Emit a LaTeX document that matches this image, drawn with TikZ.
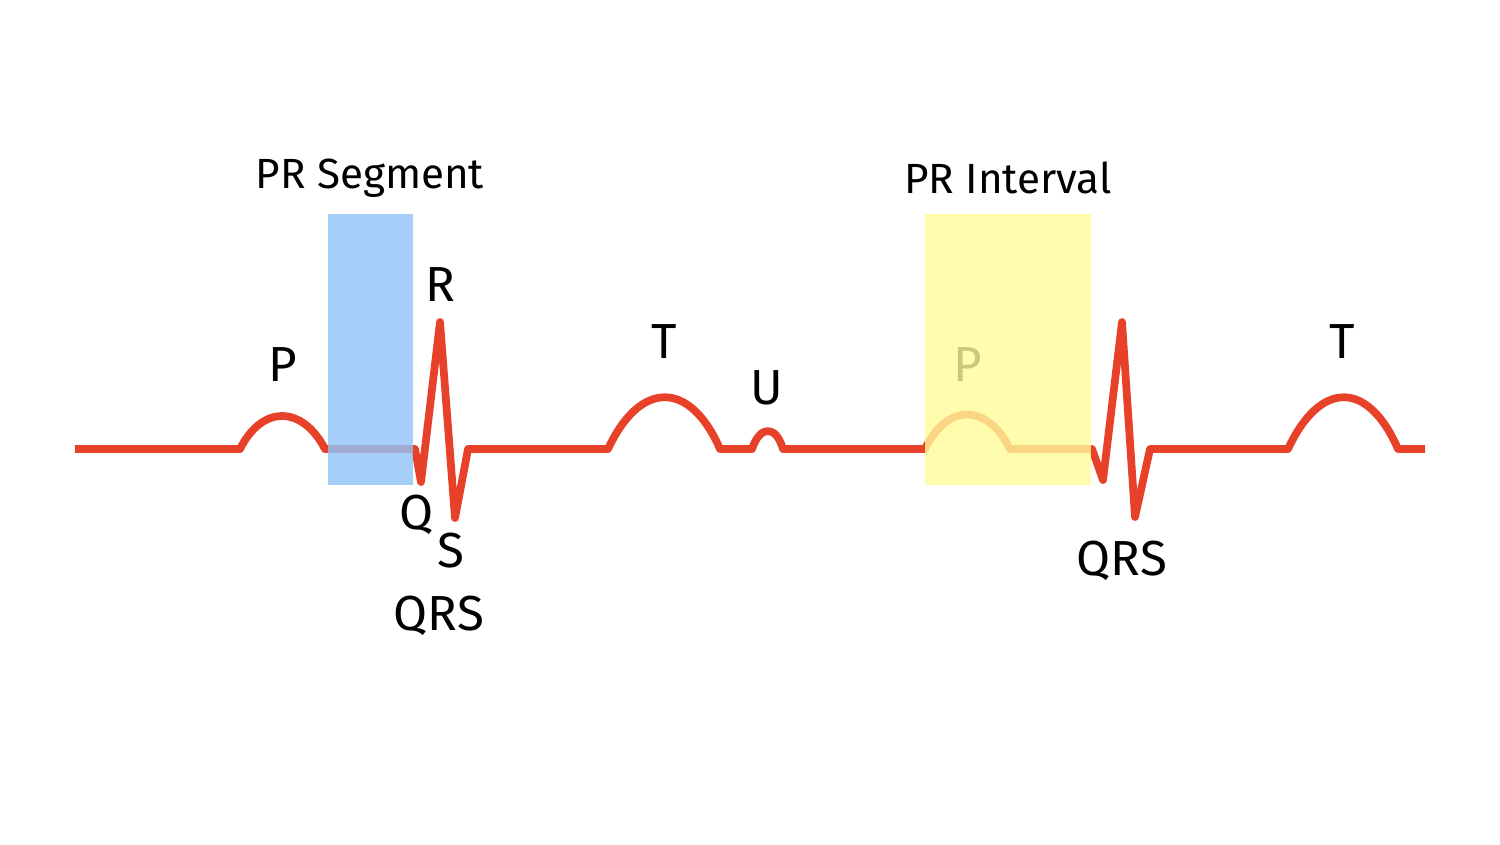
\documentclass[tikz,border=0pt]{standalone}
\usepackage{fontspec}
\setmainfont{Fira Sans}
\usetikzlibrary{positioning}
\definecolor{ecgred}{HTML}{E8412A}
\definecolor{segblue}{HTML}{8EC3F7}
\definecolor{intyellow}{HTML}{FFFB9A}
\begin{document}
\begin{tikzpicture}[x=0.01cm, y=-0.01cm, font=\fontsize{14}{16}\selectfont]
\tikzset{
    wave/.style={draw=ecgred, line width=2.2pt, line join=round},
    band/.style={opacity=0.8},
    lbl/.style={inner sep=0pt},
    title/.style={inner sep=0pt, font=\fontsize{12}{14}\selectfont}
}
\useasboundingbox (0,0) rectangle (1500,844);

% labels
\node[lbl] (p1) at (283,365) {P};
\node[lbl] (r1) at (440,285) {R};
\node[lbl] (q1) at (417,515) {Q};
\node[lbl] (s1) at (451,551) {S};
\node[lbl] (qrs1) at (439,616) {QRS};
\node[lbl] (t1) at (664,342) {T};
\node[lbl] (u1) at (767,388) {U};
\node[lbl] (p2) at (968,365) {P};
\node[lbl] (qrs2) at (1122,561) {QRS};
\node[lbl] (t2) at (1342,342) {T};

% trace
\draw[wave] (75,449) -- (240,449)
    .. controls (262,405) and (302,405) .. (325,449)
    -- (415,449) -- (421,482) -- (440,322) -- (455,518) -- (468,449) -- (608,449)
    .. controls (640,380) and (690,380) .. (720,449)
    -- (752,449) .. controls (760,425) and (776,425) .. (783,449)
    -- (925,449) .. controls (947,403) and (987,403) .. (1010,449)
    -- (1092,449) -- (1103,480) -- (1122,322) -- (1135,517) -- (1150,449) -- (1288,449)
    .. controls (1320,380) and (1368,380) .. (1398,449) -- (1425,449);

% highlighted regions
\fill[segblue, band] (328,214) rectangle (413,485);
\fill[intyellow, band] (925,214) rectangle (1091,485);
\node[title] (seg) at (370,178) {PR Segment};
\node[title] (int) at (1008,178) {PR Interval};
\end{tikzpicture}
\end{document}
